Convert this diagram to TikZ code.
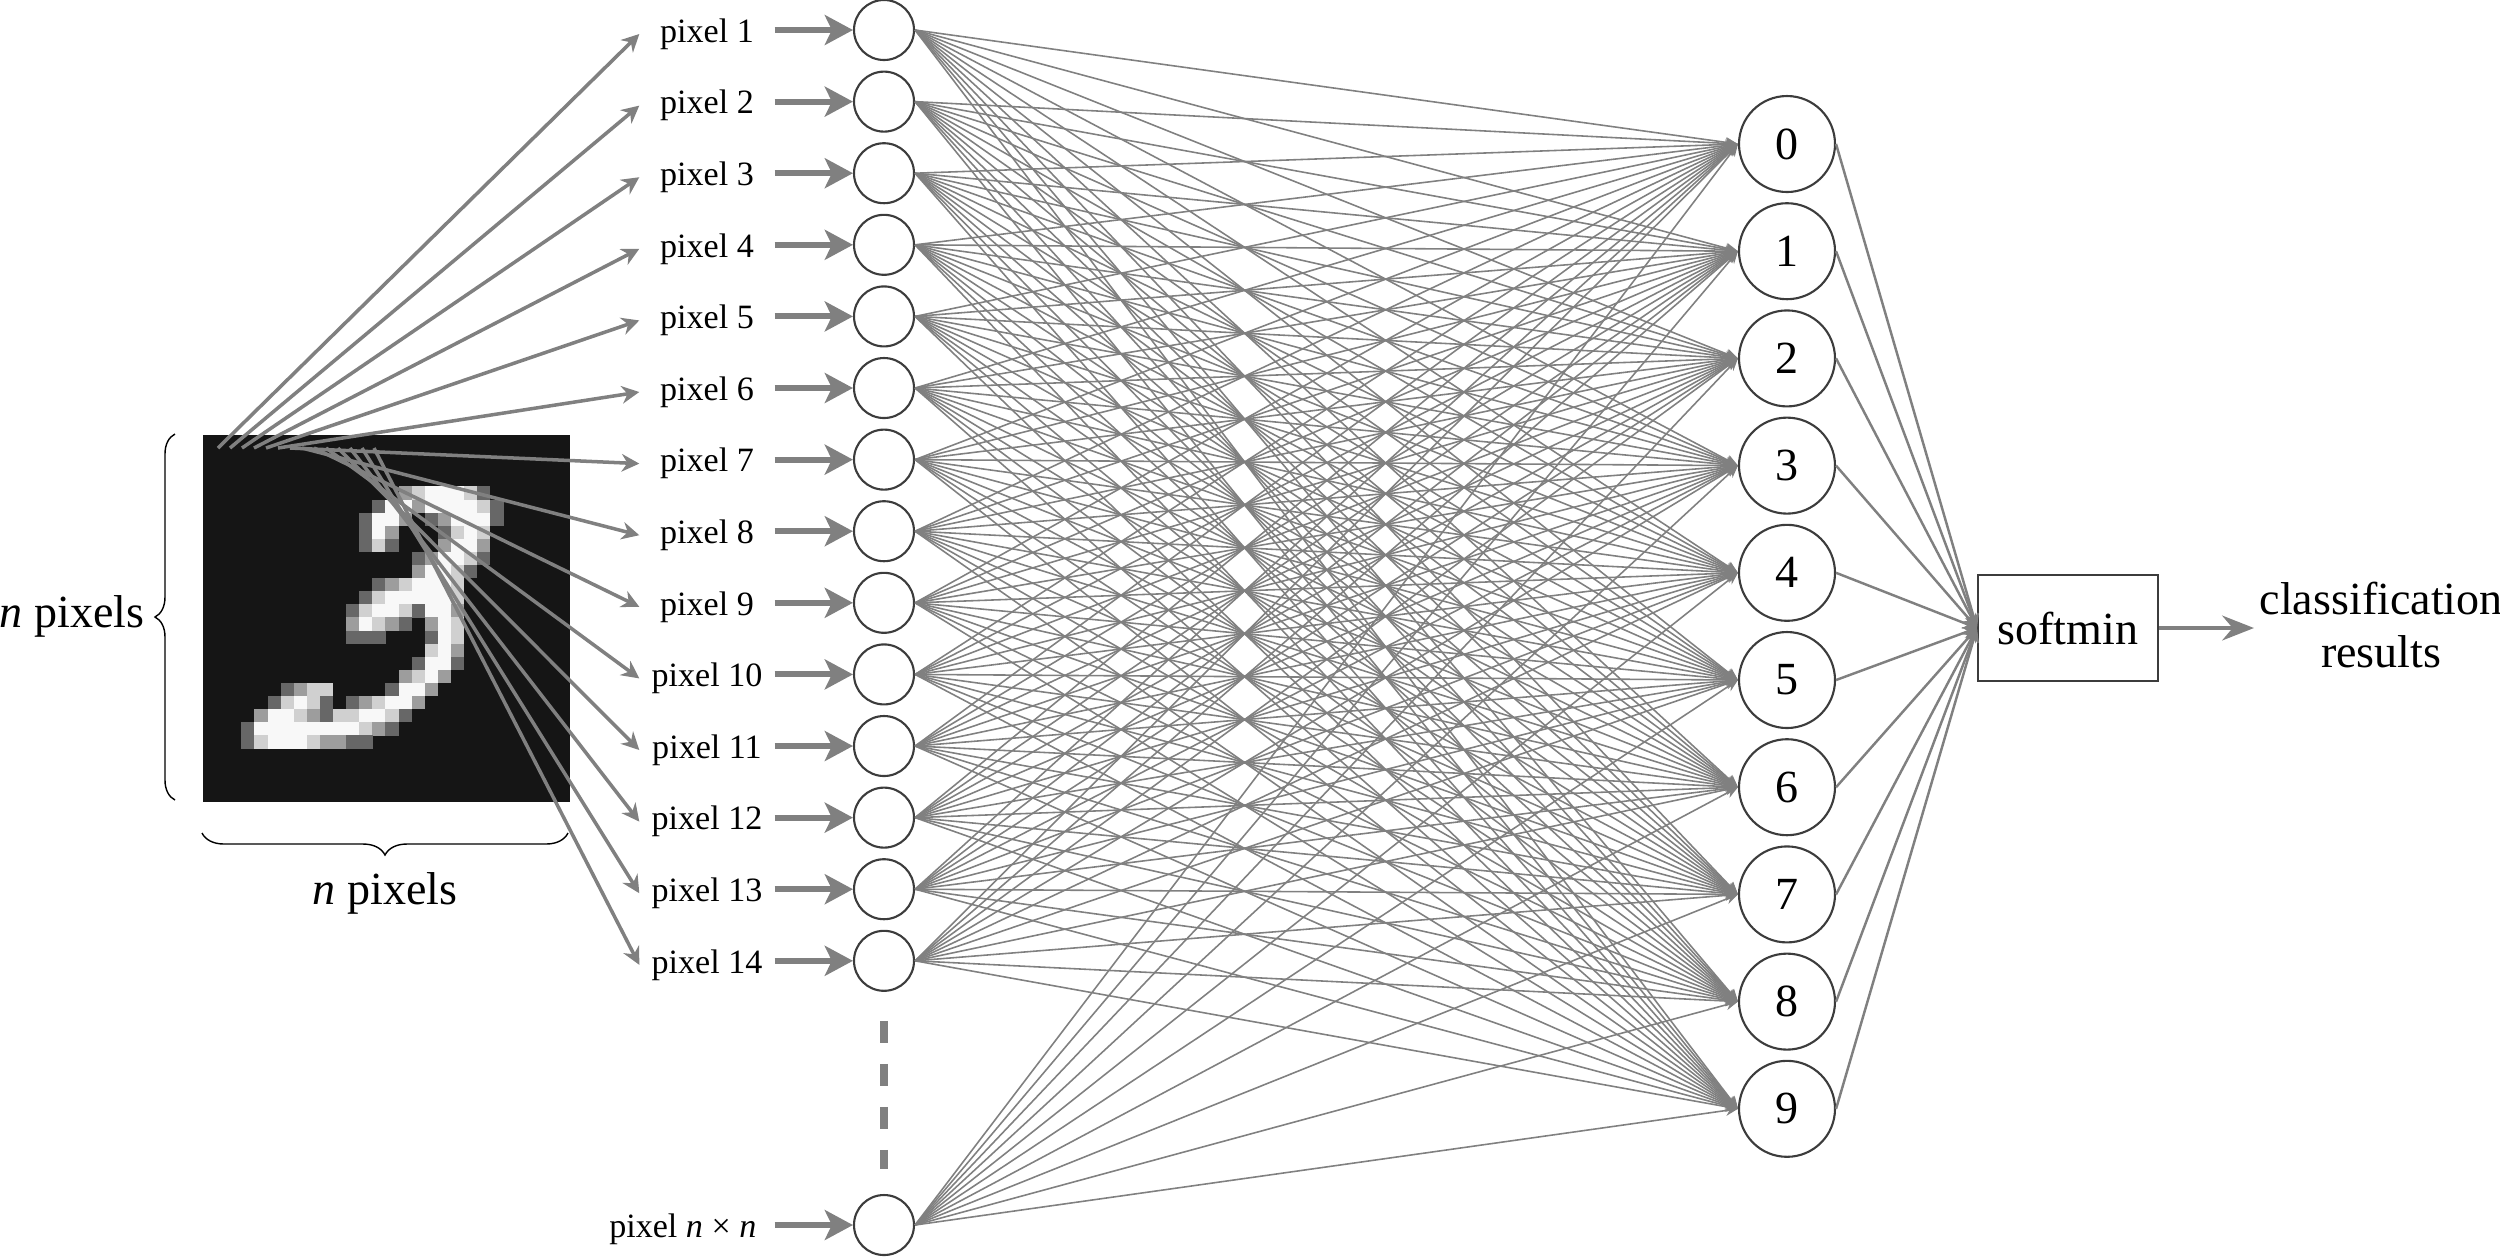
\documentclass[tikz,border=0pt]{standalone}
\usepackage{fontspec}
\setmainfont{Liberation Serif}
\usetikzlibrary{arrows.meta,decorations.pathreplacing}
\definecolor{wire}{RGB}{128,128,128}
\definecolor{ink}{RGB}{60,60,60}
\definecolor{board}{RGB}{21,21,21}
% one row of the digit picture: row, list of column/whiteness
\newcommand\pixrow[2]{\foreach \c/\v in {#2}
  \fill[white!\v!board] ({202+\c*13.1},{434+#1*13.1}) rectangle ++(13.3,13.3);}
\begin{document}
\begin{tikzpicture}[x=0.1mm,y=-0.1mm,
    small/.style={font=\fontsize{9.7}{11}\selectfont},
    big/.style={font=\fontsize{13.1}{15.1}\selectfont},
    inn/.style={circle,draw=ink,line width=0.6pt,fill=white,minimum size=6mm,inner sep=0},
    outn/.style={circle,draw=ink,line width=0.6pt,fill=white,minimum size=9.6mm,inner sep=0,big},
    lbl/.style={small,inner sep=0,minimum width=13.4mm},
    feed/.style={wire,line width=1pt,-{Stealth[length=5pt,width=5pt]}},
    fat/.style={wire,line width=1.7pt,-{Stealth[length=8pt,width=8.5pt,inset=2pt]}},
    link/.style={wire,line width=0.45pt,-{Stealth[length=3.5pt,width=3pt]}},
    tosoft/.style={wire,line width=0.7pt,-{Stealth[length=4pt,width=3.5pt]}}]
\useasboundingbox (0,0) rectangle (2500,1256);

% the digit
\node[fill=board,minimum size=36.7mm,inner sep=0,anchor=north west] (img) at (202,434) {};
\pixrow{4}{15/58,16/80,17/97,18/97,19/97,20/80,21/35}
\pixrow{5}{13/35,14/97,15/97,16/58,17/97,18/97,19/97,20/97,21/80,22/35}
\pixrow{6}{12/35,13/97,14/97,15/58,17/35,18/58,19/97,20/97,21/97,22/35}
\pixrow{7}{12/35,13/97,14/58,18/35,19/80,20/97,21/80}
\pixrow{8}{12/35,13/80,14/35,18/58,19/97,20/97,21/58}
\pixrow{9}{16/35,17/58,18/97,19/97,20/80,21/35}
\pixrow{10}{16/58,17/97,18/97,19/80,20/35}
\pixrow{11}{13/35,14/58,15/80,16/97,17/97,18/97,19/80}
\pixrow{12}{12/35,13/80,14/97,15/97,16/97,17/97,18/97,19/80}
\pixrow{13}{11/35,12/80,13/97,14/97,15/80,16/35,17/97,18/97,19/58}
\pixrow{14}{11/58,12/97,13/80,14/58,15/35,17/58,18/97,19/80}
\pixrow{15}{11/35,12/35,13/35,17/35,18/97,19/80}
\pixrow{16}{17/80,18/97,19/58}
\pixrow{17}{16/35,17/97,18/97,19/35}
\pixrow{18}{15/58,16/80,17/97,18/58}
\pixrow{19}{6/35,7/58,8/80,9/80,14/35,15/97,16/97,17/58}
\pixrow{20}{5/35,6/80,7/97,8/80,9/35,11/35,12/58,13/80,14/97,15/97,16/58}
\pixrow{21}{4/58,5/97,6/97,7/80,8/58,9/35,10/80,11/80,12/97,13/97,14/80,15/35}
\pixrow{22}{3/35,4/97,5/97,6/97,7/97,8/97,9/97,10/97,11/97,12/80,13/58,14/35}
\pixrow{23}{3/35,4/80,5/97,6/97,7/97,8/80,9/58,10/58,11/35,12/35}

% braces
\draw[decorate,decoration={brace,amplitude=2mm}] (175,800) -- (175,434);
\node[big,anchor=east,inner sep=0] (side) at (145,616) {\textit{n} pixels};
\draw[decorate,decoration={brace,amplitude=2.2mm}] (568,833) -- (202,833);
\node[big] (base) at (385,893) {\textit{n} pixels};

% input layer
\foreach \k in {1,...,14} {
  \coordinate (s\k) at ({218+12*(\k-1)},448);
  \node[lbl] (p\k) at (707,{34+71.6*(\k-1)}) {pixel \k};
  \node[inn] (in\k) at (884,{30+71.6*(\k-1)}) {};
  \draw[feed] (s\k) -- (p\k.west);
}
\node[small,anchor=east,inner sep=0] (pN) at (757,1229) {pixel \textit{n} × \textit{n}};
\node[inn] (inN) at (884,1225) {};
\foreach \k in {1,...,14,N}
  \draw[fat] (in\k.west -| p1.east) -- (in\k.west);
\draw[wire,line width=2pt,dash pattern=on 2.2mm off 2.1mm,
  shorten <=2.9mm,shorten >=2.5mm] (in14) -- (inN);

% output layer
\foreach \j in {0,...,9}
  \node[outn] (out\j) at (1787,{144+107.2*\j}) {\j};
\foreach \i in {1,...,14,N}
  \foreach \j in {0,...,9}
    \path (in\i.east) edge[link] (out\j.west);

\node[draw=ink,line width=0.6pt,minimum width=18mm,minimum height=10.6mm,big] (soft) at (2068,628) {softmin};
\foreach \j in {0,...,9}
  \path (out\j.east) edge[tosoft] (soft.west);
\node[big,align=center,inner sep=0,anchor=west] (res) at (2259,625) {classification\\results};
\draw[wire,line width=1.4pt,-{Stealth[length=9pt,width=7pt]},shorten >=0.5mm] (soft.east) -- (res.west |- soft.east);
\end{tikzpicture}
\end{document}
